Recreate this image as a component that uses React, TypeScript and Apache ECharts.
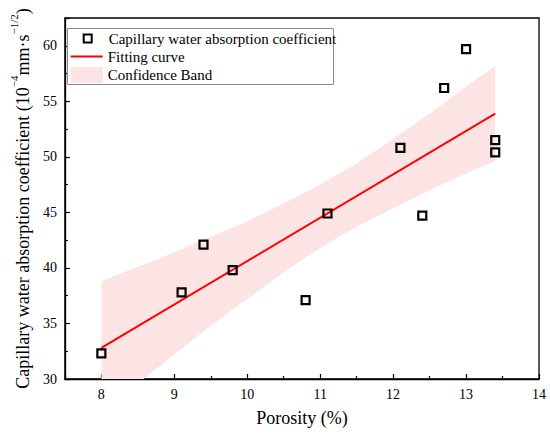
import React, { useEffect, useRef } from "react";
import * as echarts from "echarts";

const FONT = "'Liberation Serif', 'Times New Roman', 'DejaVu Serif', serif";
const BAND = "#fde4e4";

// Measured points: porosity (%) vs capillary water absorption coefficient
const porosity = [8.0, 9.1, 9.4, 9.8, 10.8, 11.1, 12.1, 12.4, 12.7, 13.0, 13.4, 13.4];
const absorption = [32.3, 37.8, 42.1, 39.8, 37.1, 44.9, 50.8, 44.7, 56.2, 59.7, 51.5, 50.4];

// Fitting line end points
const fitX = [8.0, 13.4];
const fitY = [32.8, 53.9];

// Confidence band edges
const bandX = [8.0, 8.5, 9.0, 9.5, 10.0, 10.5, 11.0, 11.5, 12.0, 12.5, 13.0, 13.4];
const bandUpper = [38.8, 40.1, 41.4, 42.8, 44.2, 45.8, 47.5, 49.4, 51.6, 53.9, 56.3, 58.2];
const bandLower = [26.9, 29.6, 32.2, 34.8, 37.2, 39.6, 41.8, 43.7, 45.4, 47.0, 48.5, 49.6];

const names = {
  scatter: "Capillary water absorption coefficient",
  fit: "Fitting curve",
  band: "Confidence Band",
};

export default function App() {
  const ref = useRef<HTMLDivElement>(null);

  useEffect(() => {
    if (!ref.current) return;
    const chart = echarts.init(ref.current, null, { renderer: "svg" });

    const axisCommon = {
      axisLine: { show: true, onZero: false, lineStyle: { color: "#000", width: 1.3 } },
      axisTick: { show: true, inside: true, length: 5, lineStyle: { color: "#000", width: 1.2 } },
      minorTick: { show: true, splitNumber: 2, length: 3, lineStyle: { color: "#000", width: 1.2 } },
      splitLine: { show: false },
      minorSplitLine: { show: false },
    };

    const legendBase = {
      orient: "horizontal" as const,
      padding: 0,
      itemGap: 0,
      itemWidth: 32,
      selectedMode: false,
      textStyle: { fontFamily: FONT, fontSize: 15, color: "#000" },
    };

    chart.setOption({
      animation: false,
      textStyle: { fontFamily: FONT },
      grid: {
        left: 51,
        right: 11,
        top: 18,
        bottom: 57,
        show: true,
        borderColor: "#000",
        borderWidth: 1.3,
        backgroundColor: "transparent",
      },
      xAxis: {
        type: "value",
        min: 7.5,
        max: 14,
        splitNumber: 6,
        ...axisCommon,
        axisLabel: {
          showMinLabel: false,
          fontFamily: FONT,
          fontSize: 14,
          color: "#000",
          margin: 8,
        },
        name: "Porosity (%)",
        nameLocation: "middle",
        nameGap: 30,
        nameTextStyle: { fontFamily: FONT, fontSize: 18, color: "#000" },
      },
      yAxis: {
        type: "value",
        min: 30,
        max: 62.5,
        interval: 5,
        ...axisCommon,
        axisLabel: {
          showMaxLabel: false,
          fontFamily: FONT,
          fontSize: 14,
          color: "#000",
          margin: 8,
        },
        name: "{n|Capillary water absorption coefficient (10}{s|−4}{n|mm·s}{s|−1/2}{n|)}",
        nameLocation: "middle",
        nameGap: 25,
        nameTextStyle: {
          fontFamily: FONT,
          color: "#000",
          rich: {
            n: { fontFamily: FONT, fontSize: 18, color: "#000", lineHeight: 24, verticalAlign: "bottom" },
            s: { fontFamily: FONT, fontSize: 11, color: "#000", verticalAlign: "top" },
          },
        },
      },
      legend: [
        {
          ...legendBase,
          left: 82.7,
          top: 31,
          itemWidth: 8,
          itemHeight: 8,
          textStyle: { ...legendBase.textStyle, padding: [0, 0, 0, 12] },
          data: [{ name: names.scatter, icon: "rect" }],
        },
        {
          ...legendBase,
          left: 70.7,
          top: 49,
          itemHeight: 2,
          data: [{ name: names.fit, icon: "rect" }],
        },
        {
          ...legendBase,
          left: 70.7,
          top: 67,
          itemHeight: 16,
          data: [{ name: names.band, icon: "rect" }],
        },
      ],
      graphic: [
        {
          type: "rect",
          z: 1,
          shape: { x: 67.5, y: 28.5, width: 266, height: 56 },
          style: { fill: "#fff", stroke: "#8a8a8a", lineWidth: 1 },
        },
      ],
      series: [
        {
          name: names.band,
          type: "custom",
          clip: true,
          z: 1,
          itemStyle: { color: BAND },
          data: bandX.map((x, i) => [x, bandLower[i], bandUpper[i]]),
          encode: { x: 0, y: [1, 2] },
          renderItem: (params: any, api: any) => {
            if (params.dataIndex !== 0) return null;
            const pts: number[][] = [];
            for (let i = 0; i < bandX.length; i++) pts.push(api.coord([bandX[i], bandUpper[i]]));
            for (let i = bandX.length - 1; i >= 0; i--) pts.push(api.coord([bandX[i], bandLower[i]]));
            return {
              type: "polygon",
              shape: { points: pts },
              style: { fill: BAND, stroke: "none" },
            };
          },
        },
        {
          name: names.fit,
          type: "line",
          z: 3,
          symbol: "none",
          itemStyle: { color: "#ff0000" },
          lineStyle: { color: "#ff0000", width: 2 },
          data: fitX.map((x, i) => [x, fitY[i]]),
        },
        {
          name: names.scatter,
          type: "scatter",
          z: 4,
          symbol: "rect",
          symbolSize: 8,
          itemStyle: { color: "rgba(0,0,0,0)", borderColor: "#000", borderWidth: 2.2, opacity: 1 },
          data: porosity.map((x, i) => [x, absorption[i]]),
        },
      ],
    });

    return () => chart.dispose();
  }, []);

  return (
    <div
      ref={ref}
      style={{ position: "absolute", left: 0, top: 0, width: 550, height: 436, background: "#fff" }}
    />
  );
}
